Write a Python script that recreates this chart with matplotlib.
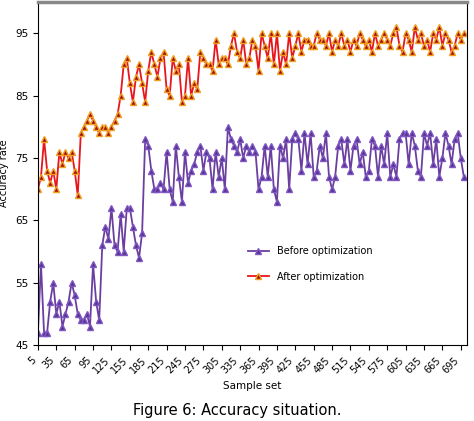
import numpy as np
import matplotlib.pyplot as plt

before = [47, 58, 47, 47, 52, 55, 50, 52, 48, 50, 52, 55, 53, 50, 49, 49, 50, 48,
          58, 52, 49, 61, 64, 62, 67, 61, 60, 66, 60, 67, 67, 64, 61, 59, 63, 78,
          77, 73, 70, 70, 71, 70, 76, 70, 68, 77, 72, 68, 76, 71, 73, 74, 76, 77,
          73, 76, 75, 70, 76, 72, 75, 70, 80, 78, 77, 76, 78, 75, 77, 76, 77, 76,
          70, 72, 77, 72, 77, 70, 68, 77, 75, 78, 70, 78, 79, 78, 73, 79, 74, 79,
          72, 73, 77, 75, 79, 72, 70, 72, 77, 78, 74, 78, 73, 77, 78, 74, 76, 72,
          73, 78, 77, 72, 77, 74, 79, 72, 74, 72, 78, 79, 79, 74, 79, 77, 73, 72,
          79, 77, 79, 74, 78, 72, 75, 79, 77, 74, 78, 79, 75, 72]
after = [70, 72, 78, 73, 71, 73, 70, 76, 74, 76, 75, 76, 73, 69, 79, 80, 81, 82,
         81, 80, 79, 80, 80, 79, 80, 81, 82, 85, 90, 91, 87, 84, 88, 90, 87, 84,
         89, 92, 90, 88, 91, 92, 86, 85, 91, 89, 90, 84, 85, 91, 85, 87, 86, 92,
         91, 90, 90, 89, 94, 90, 91, 91, 90, 93, 95, 92, 91, 94, 90, 91, 94, 93,
         89, 95, 93, 91, 95, 90, 95, 89, 92, 90, 95, 91, 93, 95, 92, 94, 94, 93,
         93, 95, 94, 94, 93, 95, 92, 94, 93, 95, 93, 94, 92, 94, 93, 95, 94, 93,
         94, 92, 95, 93, 94, 95, 94, 93, 95, 96, 93, 92, 95, 94, 92, 96, 94, 95,
         93, 94, 92, 95, 94, 96, 93, 95, 94, 92, 93, 95, 94, 95]
xticks = list(range(5, 700, 30))

x_b = 5 + 5 * np.arange(len(before))
x_a = 5 + 5 * np.arange(len(after))

fig = plt.figure(figsize=(4.74, 4.21), dpi=100)
ax = fig.add_axes([0.08, 0.18, 0.905, 0.815])
ax.plot(x_b, before, color='#6b3fa0', lw=1.3, marker='^', ms=5,
        mfc='#5a3290', mec='#7e57c2', label='Before optimization')
ax.plot(x_a, after, color='#e8151b', lw=1.3, marker='^', ms=5,
        mfc='#a01010', mec='#f0a020', label='After optimization')

ax.set_xlim(5, 705)
ax.set_ylim(45, 100)
ax.set_yticks([45, 55, 65, 75, 85, 95])
ax.set_xticks(xticks)
ax.set_xticklabels([str(t) for t in xticks], rotation=45, ha='right', fontsize=7)
ax.tick_params(axis='y', labelsize=7.5)
ax.set_xlabel('Sample set', fontsize=7.5)
ax.set_ylabel('Accuracy rate', fontsize=7)
ax.spines['top'].set_color('#888888')
ax.spines['top'].set_linewidth(2.5)
ax.legend(loc='lower right', bbox_to_anchor=(0.8, 0.16), frameon=False,
          fontsize=7, labelspacing=1.6, handlelength=2.2)
fig.text(0.5, 0.015, 'Figure 6: Accuracy situation.', ha='center', fontsize=10.5)

plt.savefig('out.png', dpi=100)
